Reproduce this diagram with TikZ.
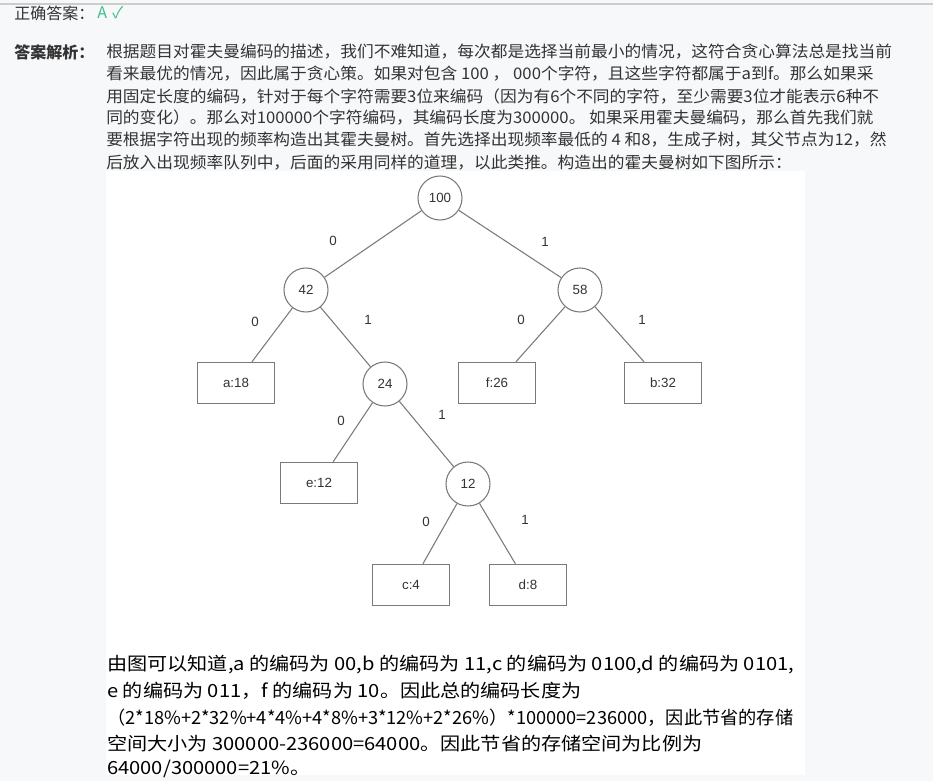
\documentclass[tikz,border=0pt]{standalone}
\usepackage{fontspec}
\setmainfont{Liberation Sans}
\newfontfamily\cjk{Noto Sans CJK SC}
\definecolor{bg}{HTML}{F7F8FA}
\definecolor{edge}{HTML}{7A7A7A}
\definecolor{txt}{HTML}{333333}
\definecolor{ok}{HTML}{3CC08A}
\begin{document}
\begin{tikzpicture}[x=0.75pt,y=-0.75pt,
  cnode/.style={circle,draw=edge,fill=white,line width=0.8pt,minimum size=33pt,inner sep=0pt,font=\fontsize{10}{12}\selectfont,text=txt},
  leaf/.style={rectangle,draw=edge,fill=white,line width=0.8pt,minimum width=58pt,minimum height=31pt,inner sep=0pt,font=\fontsize{10}{12}\selectfont,text=txt},
  elab/.style={font=\fontsize{10}{12}\selectfont,text=txt,inner sep=0pt},
  edg/.style={draw=edge,line width=0.8pt},
  para/.style={anchor=west,inner sep=0pt,font=\cjk\fontsize{12}{14}\selectfont,text=txt,xscale=1.045,transform shape},
  para2/.style={anchor=west,inner sep=0pt,font=\cjk\fontsize{13.6}{15}\selectfont,text=black,xscale=1.11,transform shape}]
\useasboundingbox (0,0) rectangle (933,781);
\fill[bg] (0,0) rectangle (933,781);
\draw[gray!40,line width=1pt] (0,4) -- (933,4);
\fill[white] (106,171) rectangle (805,775);
\node[anchor=west,inner sep=0pt,text=txt,font=\cjk\fontsize{12}{14}\selectfont] (t0) at (14,13) {正确答案：};
\node[anchor=west,inner sep=0pt,text=ok,font=\cjk\fontsize{12}{14}\selectfont] (t0b) at (97,13) {A\,\,✓};
\node[anchor=west,inner sep=0pt,text=txt,font=\cjk\bfseries\fontsize{12}{14}\selectfont] (h) at (14,52) {答案解析：};
\node[para] (l1) at (106,52) {根据题目对霍夫曼编码的描述，我们不难知道，每次都是选择当前最小的情况，这符合贪心算法总是找当前};
\node[para] (l2) at (106,74) {看来最优的情况，因此属于贪心策。如果对包含 100 ， 000个字符，且这些字符都属于a到f。那么如果采};
\node[para] (l3) at (106,97) {用固定长度的编码，针对于每个字符需要3位来编码（因为有6个不同的字符，至少需要3位才能表示6种不};
\node[para] (l4) at (106,118) {同的变化）。那么对100000个字符编码，其编码长度为300000。 如果采用霍夫曼编码，那么首先我们就};
\node[para] (l5) at (106,140) {要根据字符出现的频率构造出其霍夫曼树。首先选择出现频率最低的 4 和8，生成子树，其父节点为12，然};
\node[para] (l6) at (106,163) {后放入出现频率队列中，后面的采用同样的道理，以此类推。构造出的霍夫曼树如下图所示：};

\node[cnode] (n100) at (440,198) {100};
\node[cnode] (n42) at (306,290) {42};
\node[cnode] (n58) at (580,290) {58};
\node[leaf] (a) at (236,383) {a:18};
\node[cnode] (n24) at (385,384) {24};
\node[leaf] (f) at (497,383) {f:26};
\node[leaf] (b) at (663,383) {b:32};
\node[leaf] (e) at (319,483) {e:12};
\node[cnode] (n12) at (468,484) {12};
\node[leaf] (c) at (411,585) {c:4};
\node[leaf] (d) at (528,585) {d:8};
\draw[edg] (n100) -- (n42);
\draw[edg] (n100) -- (n58);
\draw[edg] (n42) -- (a);
\draw[edg] (n42) -- (n24);
\draw[edg] (n58) -- (f);
\draw[edg] (n58) -- (b);
\draw[edg] (n24) -- (e);
\draw[edg] (n24) -- (n12);
\draw[edg] (n12) -- (c);
\draw[edg] (n12) -- (d);
\node[elab] (e1) at (333,241) {0};
\node[elab] (e2) at (545,242) {1};
\node[elab] (e3) at (255,322) {0};
\node[elab] (e4) at (368,320) {1};
\node[elab] (e5) at (521,320) {0};
\node[elab] (e6) at (642,320) {1};
\node[elab] (e7) at (341,421) {0};
\node[elab] (e8) at (442,415) {1};
\node[elab] (e9) at (426,522) {0};
\node[elab] (e10) at (525,520) {1};

\node[para2] (b1) at (107,665) {由图可以知道,a 的编码为 00,b 的编码为 11,c 的编码为 0100,d 的编码为 0101,};
\node[para2] (b2) at (107,691) {e 的编码为 011，f 的编码为 10。因此总的编码长度为};
\node[para2,xscale=0.905] (b3) at (107,718) {（2*18\%+2*32\%+4*4\%+4*8\%+3*12\%+2*26\%）*100000=236000，因此节省的存储};
\node[para2] (b4) at (107,744) {空间大小为 300000-236000=64000。因此节省的存储空间为比例为};
\node[para2] (b5) at (107,769) {64000/300000=21\%。};
\end{tikzpicture}
\end{document}
